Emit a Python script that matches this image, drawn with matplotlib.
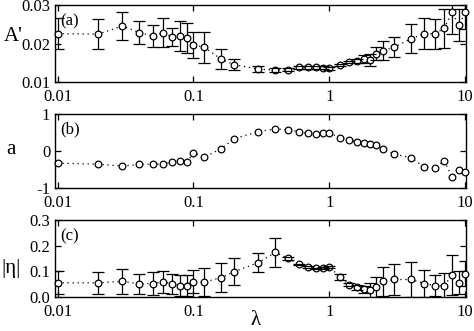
import matplotlib
matplotlib.use("Agg")
import matplotlib.pyplot as plt
import numpy as np

plt.rcParams['font.family'] = ['Liberation Serif', 'DejaVu Serif']
plt.rcParams['mathtext.fontset'] = 'stix'

lam = [0.01, 0.02, 0.03, 0.04, 0.05, 0.06, 0.07, 0.08, 0.09, 0.1, 0.12, 0.16,
       0.2, 0.3, 0.4, 0.5, 0.6, 0.7, 0.8, 0.9, 1.0, 1.2, 1.4, 1.6, 1.8, 2.0,
       2.2, 2.5, 3, 4, 5, 6, 7, 8, 9, 10]

A_prime = [0.0226, 0.0225, 0.0246, 0.0229, 0.0220, 0.0229, 0.0217, 0.0220, 0.0215,
           0.0196, 0.0191, 0.0160, 0.0145, 0.0134, 0.0131, 0.0132, 0.0138, 0.0138,
           0.0139, 0.0137, 0.0136, 0.0145, 0.0152, 0.0155, 0.0160, 0.0158, 0.0174,
           0.0182, 0.0191, 0.0213, 0.0226, 0.0226, 0.0240, 0.0282, 0.0248, 0.0283]
A_prime_err = [0.0040, 0.0040, 0.0037, 0.0029, 0.0029, 0.0038, 0.0023, 0.0040, 0.0040,
               0.0034, 0.0040, 0.0027, 0.0014, 0.0008, 0.0005, 0.0004, 0.0004, 0.0004,
               0.0004, 0.0004, 0.0004, 0.0003, 0.0003, 0.0006, 0.0010, 0.0015, 0.0017,
               0.0024, 0.0026, 0.0037, 0.0040, 0.0039, 0.0050, 0.0057, 0.0042, 0.0045]

a_vals = [-0.32, -0.35, -0.40, -0.35, -0.35, -0.34, -0.29, -0.26, -0.29, -0.04,
          -0.16, 0.07, 0.34, 0.53, 0.60, 0.58, 0.53, 0.48, 0.46, 0.48, 0.49, 0.37,
          0.31, 0.26, 0.21, 0.19, 0.17, 0.05, -0.07, -0.18, -0.42, -0.46, -0.26,
          -0.69, -0.51, -0.56]

eta = [0.054, 0.054, 0.060, 0.050, 0.051, 0.058, 0.050, 0.043, 0.043, 0.058, 0.057,
       0.074, 0.098, 0.133, 0.173, 0.150, 0.126, 0.116, 0.111, 0.113, 0.116, 0.077,
       0.047, 0.037, 0.028, 0.024, 0.037, 0.060, 0.067, 0.067, 0.051, 0.043, 0.043,
       0.084, 0.054, 0.090]
eta_err = [0.045, 0.043, 0.050, 0.040, 0.045, 0.043, 0.040, 0.040, 0.040, 0.045, 0.055,
           0.058, 0.052, 0.038, 0.058, 0.006, 0.003, 0.005, 0.003, 0.003, 0.003, 0.013,
           0.005, 0.010, 0.015, 0.030, 0.040, 0.057, 0.060, 0.070, 0.053, 0.040, 0.048,
           0.078, 0.045, 0.050]

x_ticks = [0.01, 0.1, 1, 10]
x_ticklabels = ['0.01', '0.1', '1', '10']

panels = [
    dict(y=A_prime, err=A_prime_err, ylim=(0.01, 0.03), yticks=[0.01, 0.02, 0.03],
         yticklabels=['0.01', '0.02', '0.03'], ylabel="A'", tag='(a)',
         rect=[0.115, 0.752, 0.869, 0.232], ylab=(-0.10, 0.60)),
    dict(y=a_vals, err=None, ylim=(-1, 1), yticks=[-1, 0, 1],
         yticklabels=['-1', '0', '1'], ylabel='a', tag='(b)',
         rect=[0.115, 0.431, 0.869, 0.224], ylab=(-0.105, 0.53)),
    dict(y=eta, err=eta_err, ylim=(0.0, 0.3), yticks=[0.0, 0.1, 0.2, 0.3],
         yticklabels=['0.0', '0.1', '0.2', '0.3'], ylabel='|η|', tag='(c)',
         rect=[0.115, 0.104, 0.869, 0.231], ylab=(-0.105, 0.37)),
]

fig = plt.figure(figsize=(4.74, 3.31), dpi=100)

for i, p in enumerate(panels):
    ax = fig.add_axes(p['rect'])
    ax.set_xscale('log')
    ax.set_xlim(0.0095, 10.2)
    ax.set_ylim(*p['ylim'])
    ax.plot(lam, p['y'], linestyle=(0, (1, 3)), color='k', lw=0.9, zorder=1)
    if p['err'] is not None:
        eb = ax.errorbar(lam, p['y'], yerr=p['err'], fmt='none', ecolor='k',
                         elinewidth=0.9, capsize=4, capthick=0.9, zorder=2)
        for cl in eb[1]:
            cl.set_zorder(4)
    ax.plot(lam, p['y'], linestyle='none', marker='o', ms=4.8, mfc='white',
            mec='k', mew=0.9, zorder=3, clip_on=False)
    ax.set_xticks(x_ticks)
    ax.set_xticklabels(x_ticklabels)
    ax.xaxis.set_minor_locator(matplotlib.ticker.NullLocator())
    ax.set_yticks(p['yticks'])
    ax.set_yticklabels(p['yticklabels'])
    ax.tick_params(direction='in', length=4, width=0.9, top=True, right=True,
                   labelsize=12, colors='k')
    ax.tick_params(axis='x', pad=5)
    ax.tick_params(axis='y', pad=3)
    for s in ax.spines.values():
        s.set_linewidth(1.0)
    ax.set_ylabel(p['ylabel'], rotation=0, fontsize=15, va='center', ha='center')
    ax.yaxis.set_label_coords(*p['ylab'])
    ax.text(0.015, 0.79, p['tag'], transform=ax.transAxes, fontsize=12,
            va='center', ha='left')
    if i == 2:
        ax.set_xlabel('λ', fontsize=15, va='center')
        ax.xaxis.set_label_coords(0.487, -0.31)

fig.savefig('out.png', dpi=100)
